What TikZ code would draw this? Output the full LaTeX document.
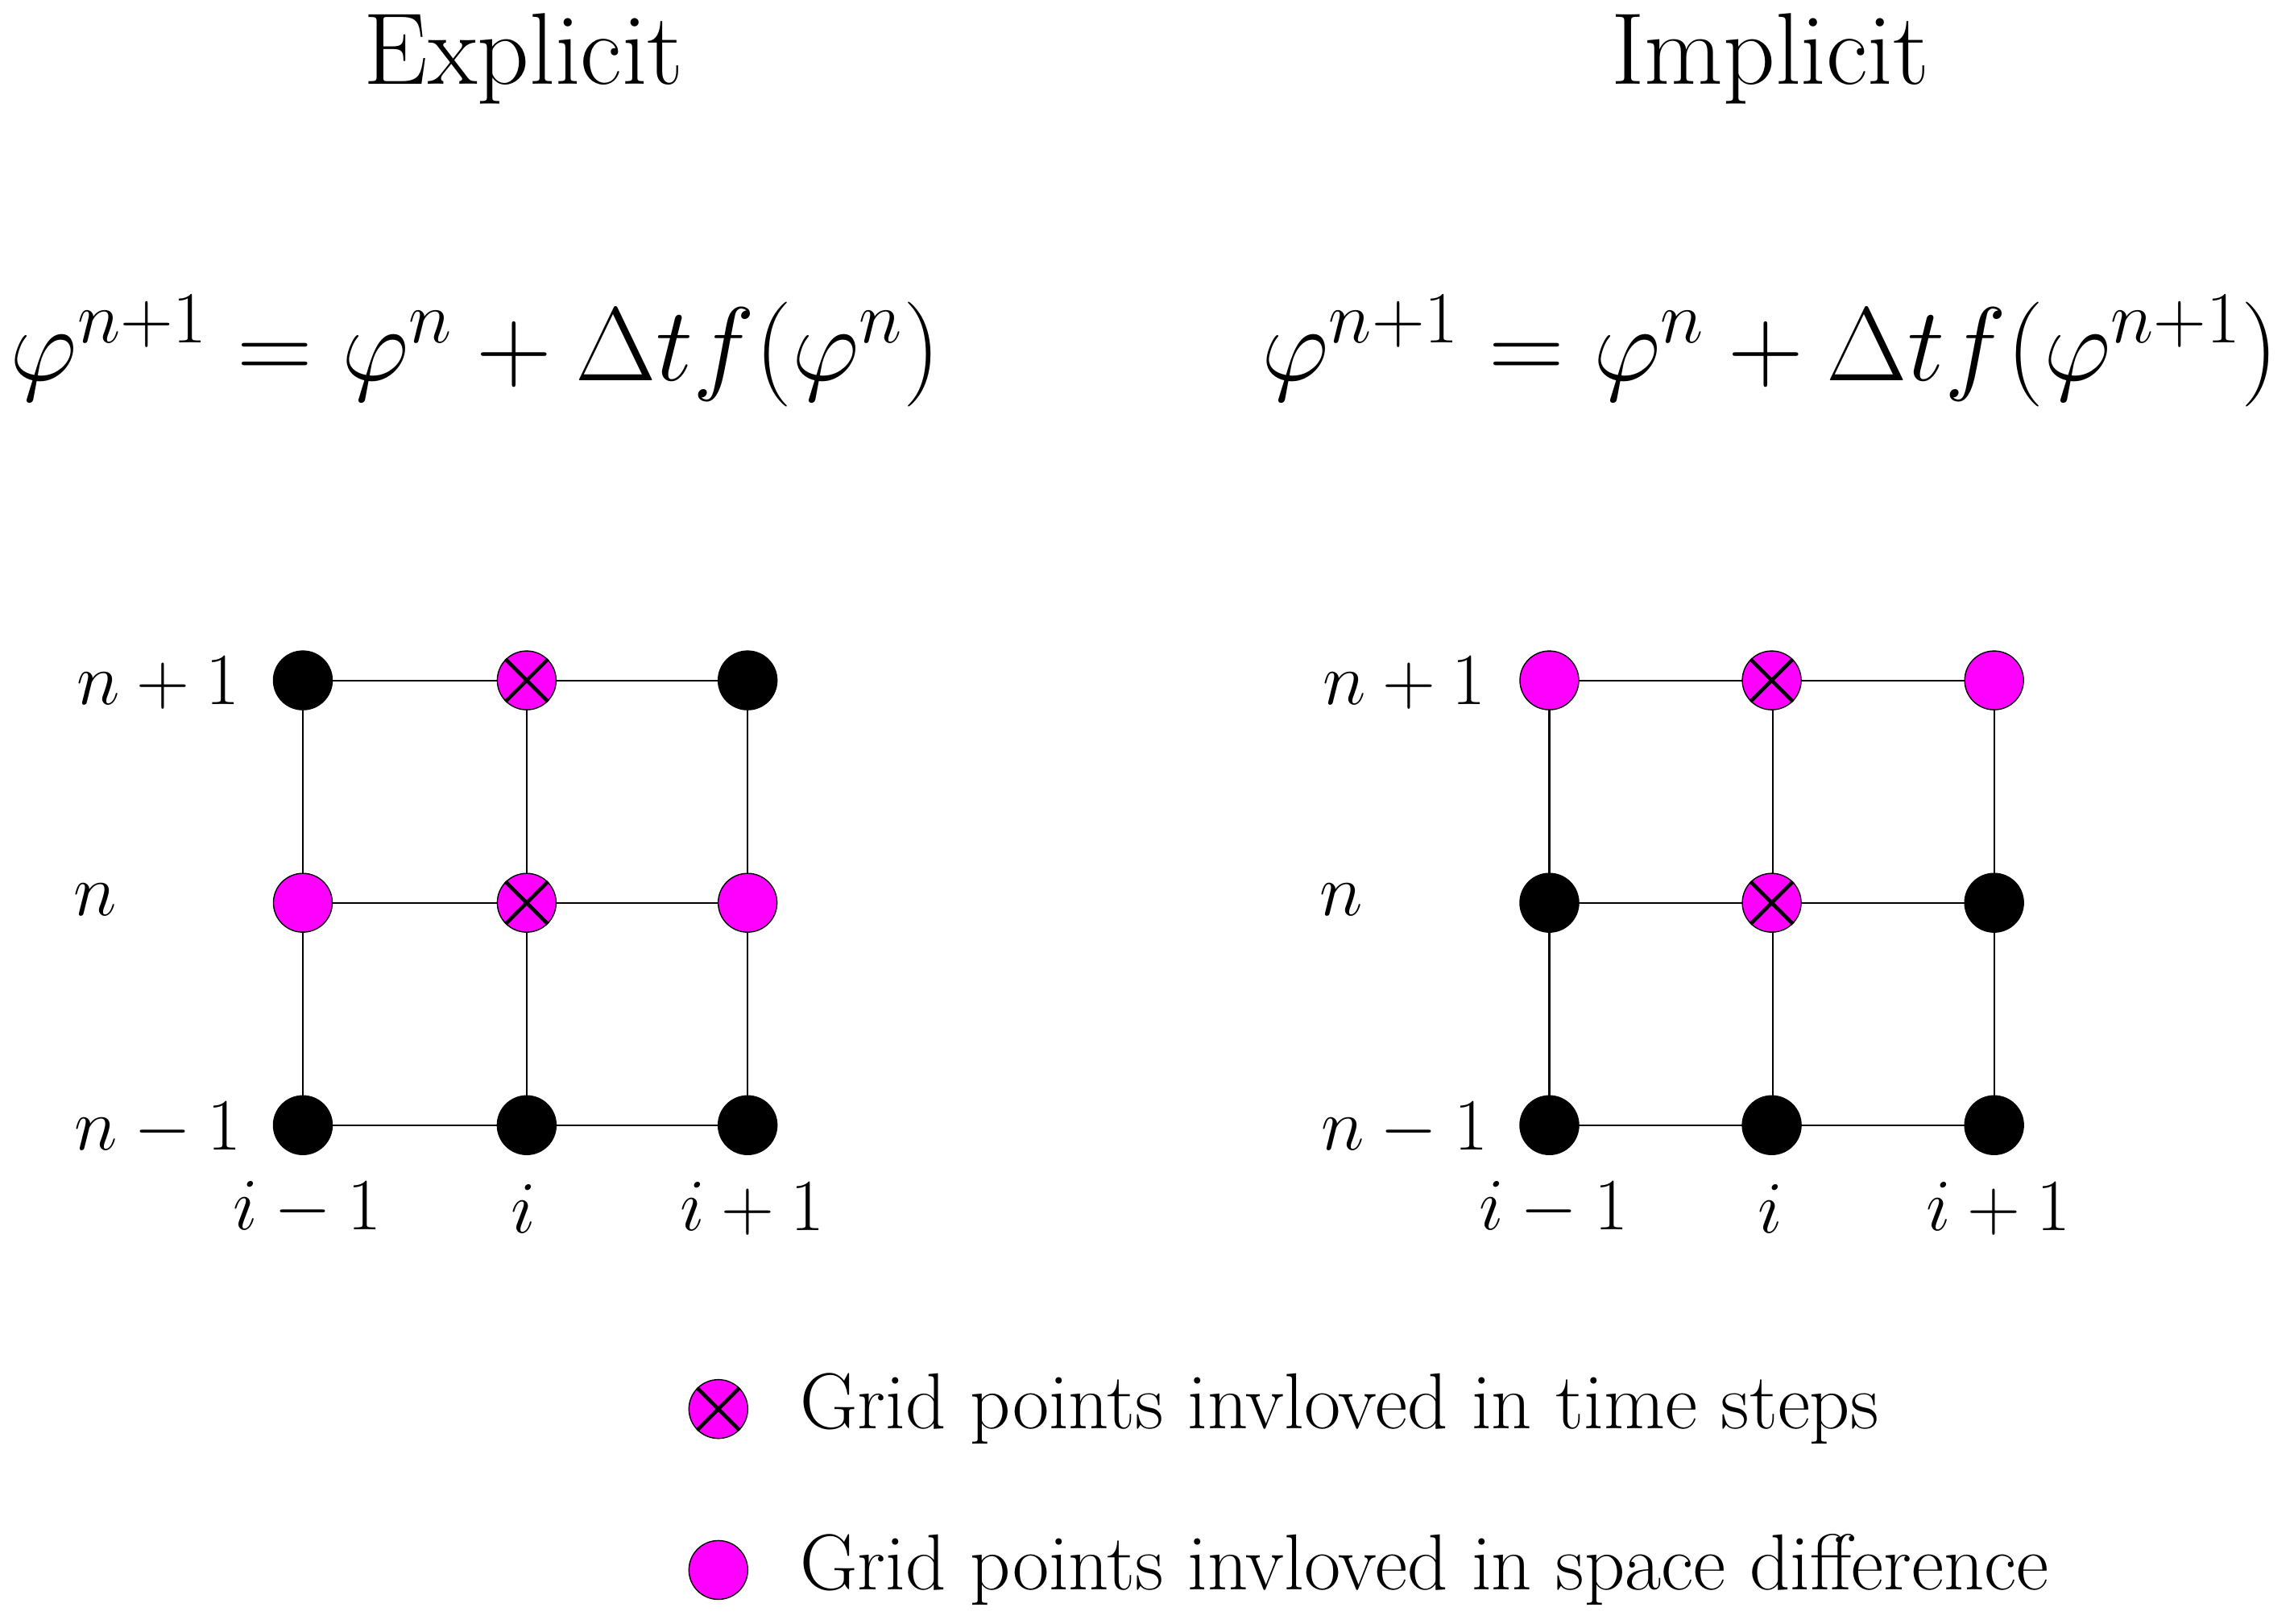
\documentclass[tikz,border=0pt]{standalone}
\usepackage{fix-cm}
\usepackage{amsmath}
\definecolor{mag}{RGB}{255,0,255}
\tikzset{
 pt/.style={circle,draw=black,fill=black,minimum size=0.73cm,inner sep=0pt},
 sp/.style={pt,fill=mag},
 tm/.style={sp},
 gl/.style={font=\fontsize{26}{30}\selectfont},
 ttl/.style={font=\fontsize{36}{42}\selectfont},
 eq/.style={font=\fontsize{37}{44}\selectfont},
 lg/.style={font=\fontsize{28}{32}\selectfont,anchor=west},
 ln/.style={line width=0.6pt},
 crs/.style={line width=1.3pt}
}
\begin{document}
\begin{tikzpicture}[x=0.018163cm,y=-0.018163cm]
\useasboundingbox (0,0) rectangle (1568,1109.5);
\node[ttl] (t1) at (358,40) {Explicit};
\node[ttl] (t2) at (1210,40) {Implicit};
\node[eq] (e1) at (325,240) {$\varphi^{n+1}=\varphi^{n}+\Delta t f(\varphi^{n})$};
\node[eq] (e2) at (1210,240) {$\varphi^{n+1}=\varphi^{n}+\Delta t f(\varphi^{n+1})$};
\foreach \s/\ox in {L/0,R/852}{
 \draw[ln] (207+\ox,465) -- (511+\ox,465) (207+\ox,617) -- (511+\ox,617) (207+\ox,769) -- (511+\ox,769)
   (207+\ox,465) -- (207+\ox,769) (360+\ox,465) -- (360+\ox,769) (511+\ox,465) -- (511+\ox,769);
 \node[gl] (\s r1) at (108+\ox,467) {$n+1$};
 \node[gl] (\s r2) at (65+\ox,615) {$n$};
 \node[gl] (\s r3) at (108+\ox,772) {$n-1$};
 \node[gl] (\s c1) at (210+\ox,826) {$i-1$};
 \node[gl] (\s c2) at (358+\ox,826) {$i$};
 \node[gl] (\s c3) at (514+\ox,826) {$i+1$};
}
\node[pt] (a1) at (207,465) {}; \node[tm] (a2) at (360,465) {}; \node[pt] (a3) at (511,465) {};
\node[sp] (b1) at (207,617) {}; \node[tm] (b2) at (360,617) {}; \node[sp] (b3) at (511,617) {};
\node[pt] (c1) at (207,769) {}; \node[pt] (c2) at (360,769) {}; \node[pt] (c3) at (511,769) {};
\node[sp] (d1) at (1059,465) {}; \node[tm] (d2) at (1211,465) {}; \node[sp] (d3) at (1363,465) {};
\node[pt] (f1) at (1059,617) {}; \node[tm] (f2) at (1211,617) {}; \node[pt] (f3) at (1363,617) {};
\node[pt] (g1) at (1059,769) {}; \node[pt] (g2) at (1211,769) {}; \node[pt] (g3) at (1363,769) {};
\node[tm] (k1) at (491,963) {};
\node[lg] (l1) at (540,963) {Grid points invloved in time steps};
\node[sp] (k2) at (491,1073) {};
\node[lg] (l2) at (540,1073) {Grid points invloved in space difference};
\foreach \n in {a2,b2,d2,f2,k1}{
 \draw[crs] (\n.45) -- (\n.225) (\n.135) -- (\n.315);
}
\end{tikzpicture}
\end{document}
